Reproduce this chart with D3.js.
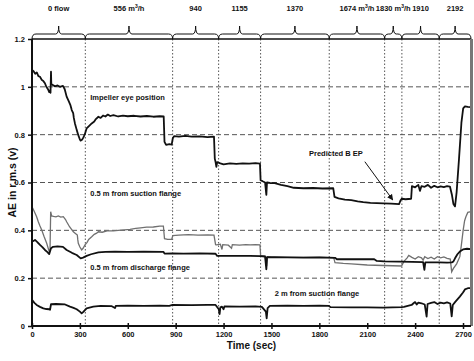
<!DOCTYPE html>
<html><head><meta charset="utf-8">
<script src="https://cdn.jsdelivr.net/npm/d3@7"></script>
<style>body{margin:0;background:#fff}svg{display:block}text{font-family:Arial,"Liberation Sans",sans-serif;font-weight:bold;fill:#111}</style>
</head><body><svg id="c" width="474" height="361"></svg>
<script>
// ---- data ----
const xTicks = [0,300,600,900,1200,1500,1800,2100,2400,2700];
const yTicks = [0,0.2,0.4,0.6,0.8,1,1.2];
const flowBounds = [0,334,881,1169,1432,1862,2209,2317,2551,2750];
const flowLabels = ["0 flow","556 m|3|/h","940","1155","1370","1674 m|3|/h","1830 m|3|/h","1910","2192"];

const impellerEye = [[0,1.07],[10,1.065],[20,1.055],[30,1.06],[40,1.045],[50,1.042],[60,1.03],[70,1.025],[81,1.015],[90,1.0],[100,0.99],[108,0.978],[112,0.985],[116,0.975],[119,1.063],[121,1.01],[130,1.008],[145,1.002],[160,1.006],[175,1.0],[194,1.004],[205,0.99],[217,0.959],[230,0.94],[240,0.925],[249,0.903],[258,0.89],[262,0.87],[269,0.847],[280,0.82],[290,0.798],[300,0.78],[305,0.775],[315,0.78],[322,0.789],[330,0.8],[342,0.826],[355,0.835],[374,0.847],[390,0.855],[400,0.865],[416,0.875],[430,0.87],[445,0.88],[460,0.876],[475,0.884],[490,0.878],[510,0.882],[540,0.876],[570,0.88],[600,0.877],[640,0.879],[680,0.876],[720,0.878],[760,0.875],[800,0.877],[825,0.876],[830,0.77],[840,0.757],[860,0.76],[875,0.758],[882,0.785],[890,0.794],[920,0.792],[960,0.795],[1000,0.792],[1050,0.793],[1100,0.79],[1140,0.792],[1145,0.7],[1150,0.685],[1155,0.665],[1160,0.685],[1180,0.68],[1200,0.676],[1240,0.68],[1280,0.678],[1320,0.68],[1360,0.679],[1400,0.681],[1428,0.679],[1432,0.61],[1445,0.605],[1460,0.6],[1468,0.548],[1472,0.6],[1490,0.598],[1520,0.597],[1560,0.59],[1600,0.585],[1640,0.578],[1700,0.576],[1760,0.577],[1820,0.575],[1887,0.576],[1895,0.54],[1920,0.534],[1960,0.528],[2000,0.526],[2040,0.521],[2075,0.518],[2120,0.515],[2160,0.514],[2200,0.513],[2250,0.512],[2300,0.51],[2308,0.525],[2316,0.532],[2340,0.53],[2375,0.532],[2380,0.585],[2400,0.58],[2420,0.59],[2430,0.565],[2440,0.585],[2460,0.582],[2480,0.59],[2500,0.578],[2520,0.586],[2540,0.58],[2560,0.584],[2580,0.581],[2600,0.585],[2618,0.583],[2630,0.55],[2640,0.51],[2650,0.5],[2660,0.56],[2675,0.7],[2690,0.85],[2701,0.91],[2712,0.918],[2730,0.916],[2750,0.915]];

const suction05 = [[0,0.499],[10,0.485],[20,0.47],[29,0.457],[40,0.435],[50,0.418],[61,0.401],[75,0.375],[92,0.346],[100,0.328],[108,0.311],[113,0.32],[117,0.478],[123,0.46],[135,0.458],[150,0.456],[165,0.46],[180,0.455],[196,0.457],[210,0.445],[217,0.436],[235,0.415],[250,0.402],[259,0.394],[270,0.388],[284,0.38],[287,0.36],[290,0.346],[300,0.33],[311,0.318],[320,0.325],[332,0.339],[345,0.35],[355,0.362],[374,0.373],[390,0.383],[405,0.388],[416,0.394],[440,0.392],[470,0.398],[510,0.398],[540,0.4],[580,0.402],[614,0.404],[650,0.408],[680,0.41],[718,0.413],[760,0.414],[800,0.418],[823,0.418],[830,0.365],[850,0.362],[875,0.362],[882,0.378],[920,0.38],[980,0.382],[1040,0.38],[1100,0.381],[1140,0.38],[1150,0.34],[1157,0.339],[1180,0.342],[1190,0.32],[1195,0.34],[1230,0.338],[1250,0.325],[1255,0.34],[1300,0.338],[1340,0.34],[1366,0.339],[1400,0.34],[1428,0.339],[1432,0.295],[1460,0.293],[1470,0.25],[1475,0.29],[1520,0.29],[1600,0.287],[1700,0.287],[1800,0.287],[1890,0.286],[1898,0.265],[1950,0.262],[2000,0.26],[2100,0.255],[2200,0.253],[2260,0.252],[2315,0.251],[2330,0.27],[2350,0.285],[2360,0.295],[2380,0.287],[2400,0.28],[2420,0.29],[2440,0.285],[2450,0.275],[2460,0.29],[2480,0.282],[2500,0.288],[2520,0.28],[2540,0.29],[2560,0.285],[2580,0.289],[2600,0.283],[2620,0.28],[2629,0.227],[2640,0.241],[2660,0.26],[2680,0.29],[2690,0.34],[2701,0.401],[2710,0.44],[2718,0.457],[2730,0.475],[2750,0.478]];

const discharge05 = [[0,0.352],[19,0.36],[35,0.35],[50,0.339],[65,0.33],[81,0.318],[95,0.31],[108,0.301],[119,0.325],[132,0.331],[160,0.333],[194,0.331],[217,0.318],[250,0.306],[280,0.297],[305,0.283],[320,0.286],[342,0.293],[370,0.3],[416,0.308],[460,0.31],[520,0.311],[600,0.31],[700,0.311],[823,0.31],[830,0.303],[880,0.304],[950,0.303],[1050,0.304],[1150,0.302],[1160,0.293],[1250,0.293],[1366,0.293],[1430,0.292],[1460,0.29],[1468,0.237],[1472,0.288],[1500,0.287],[1600,0.287],[1700,0.286],[1800,0.287],[1898,0.285],[1910,0.279],[2000,0.279],[2144,0.279],[2160,0.272],[2205,0.27],[2300,0.269],[2380,0.268],[2450,0.267],[2458,0.235],[2464,0.266],[2550,0.266],[2600,0.265],[2630,0.266],[2640,0.27],[2650,0.283],[2665,0.3],[2680,0.311],[2700,0.32],[2725,0.323],[2750,0.321]];

const suction2m = [[0,0.109],[15,0.097],[29,0.088],[50,0.08],[71,0.074],[90,0.071],[108,0.07],[113,0.068],[119,0.091],[150,0.092],[180,0.091],[207,0.09],[238,0.081],[260,0.076],[280,0.07],[300,0.06],[311,0.053],[320,0.058],[342,0.074],[384,0.081],[430,0.084],[500,0.083],[520,0.075],[525,0.084],[600,0.085],[700,0.084],[800,0.085],[860,0.084],[880,0.088],[1000,0.087],[1100,0.088],[1150,0.088],[1170,0.07],[1175,0.05],[1180,0.078],[1190,0.081],[1200,0.07],[1205,0.082],[1300,0.081],[1400,0.082],[1440,0.08],[1465,0.06],[1470,0.032],[1476,0.075],[1490,0.084],[1600,0.085],[1700,0.084],[1800,0.085],[1860,0.084],[1870,0.079],[2000,0.078],[2100,0.078],[2200,0.077],[2315,0.079],[2330,0.08],[2378,0.088],[2390,0.095],[2400,0.1],[2410,0.09],[2420,0.098],[2440,0.095],[2460,0.09],[2472,0.039],[2478,0.092],[2500,0.097],[2520,0.1],[2540,0.092],[2560,0.098],[2580,0.095],[2600,0.099],[2620,0.094],[2629,0.04],[2636,0.088],[2650,0.1],[2680,0.123],[2700,0.14],[2712,0.153],[2730,0.158],[2750,0.158]];

const annotations = [
  {text:"Impeller eye position", t:365, v:0.945},
  {text:"0.5 m from suction flange", t:365, v:0.545},
  {text:"0.5 m from discharge flange", t:365, v:0.235},
  {text:"2 m  from suction flange", t:1520, v:0.125},
  {text:"Predicted B EP", t:1735, v:0.71}
];
const bepArrow = {t0:2085, v0:0.687, t1:2260, v1:0.527};

// ---- chart ----
const svg = d3.select("#c");
const x = d3.scaleLinear().domain([0,2750]).range([32,471]);
const y = d3.scaleLinear().domain([0,1.2]).range([326,39]);

svg.append("g").selectAll("line").data(yTicks.filter(d=>d>0 && d<1.2)).join("line")
  .attr("x1",x(0)).attr("x2",x(2750)).attr("y1",d=>y(d)).attr("y2",d=>y(d))
  .attr("stroke","#555").attr("stroke-width",1).attr("stroke-dasharray","5,3");
svg.append("g").selectAll("line").data(flowBounds.slice(1,-1)).join("line")
  .attr("x1",d=>x(d)).attr("x2",d=>x(d)).attr("y1",y(1.2)).attr("y2",y(0))
  .attr("stroke","#555").attr("stroke-width",1).attr("stroke-dasharray","1.5,2");

const line = d3.line().x(d=>x(d[0])).y(d=>y(d[1]));
svg.append("path").datum(suction05).attr("d",line).attr("fill","none").attr("stroke","#707070").attr("stroke-width",1.3);
[discharge05, suction2m, impellerEye].forEach(s=>{
  svg.append("path").datum(s).attr("d",line).attr("fill","none").attr("stroke","#111").attr("stroke-width",1.8).attr("stroke-linejoin","round");
});

svg.append("line").attr("x1",x(0)).attr("x2",x(2750)).attr("y1",y(1.2)).attr("y2",y(1.2)).attr("stroke","#111").attr("stroke-width",1.3);
svg.append("line").attr("x1",x(2750)+0.5).attr("x2",x(2750)+0.5).attr("y1",y(1.2)).attr("y2",y(0)).attr("stroke","#777").attr("stroke-width",3);

const xAxis = svg.append("g").attr("transform",`translate(0,${y(0)})`)
  .call(d3.axisBottom(x).tickValues(xTicks).tickSize(3).tickPadding(3).tickFormat(d3.format("d")));
const yAxis = svg.append("g").attr("transform",`translate(${x(0)},0)`)
  .call(d3.axisLeft(y).tickValues(yTicks).tickSize(4).tickPadding(3).tickFormat(d=>String(d)));
[xAxis,yAxis].forEach(a=>{
  a.select(".domain").attr("stroke","#111").attr("stroke-width",2);
  a.selectAll(".tick line").attr("stroke","#111").attr("stroke-width",1.5);
  a.selectAll("text").attr("font-size","7.5px").attr("font-weight","bold").attr("fill","#111")
   .attr("font-family","Arial, 'Liberation Sans', sans-serif");
});
xAxis.selectAll(".tick line").attr("y1",-3).attr("y2",3);
yAxis.selectAll(".tick line").attr("x1",-4).attr("x2",1);
xAxis.select(".domain").attr("d",`M${x(0)},0H${x(2750)}`);
yAxis.select(".domain").attr("d",`M0,${y(1.2)}V${y(0)}`);

svg.append("text").attr("x",(x(0)+x(2750))/2).attr("y",349).attr("text-anchor","middle").attr("font-size","10px").text("Time (sec)");
svg.append("text").attr("transform",`translate(16,${(y(0.4)+y(0.8))/2}) rotate(-90)`).attr("text-anchor","middle").attr("font-size","10.5px").text("AE in r.m.s (v)");

const bg = svg.append("g");
for(let i=0;i<flowLabels.length;i++){
  const a = x(flowBounds[i]), b = x(flowBounds[i+1]), m=(a+b)/2;
  const yb = y(1.2), yh = yb-5, yt = yb-13;
  const r = Math.min(4,(b-a)/4);
  bg.append("path").attr("d",`M${a},${yb}Q${a},${yh} ${a+r},${yh}L${m-3},${yh}Q${m},${yh} ${m},${yt}Q${m},${yh} ${m+3},${yh}L${b-r},${yh}Q${b},${yh} ${b},${yb}`)
    .attr("fill","none").attr("stroke","#111").attr("stroke-width",1);
  const parts = flowLabels[i].split("|");
  const t = bg.append("text").attr("x",m).attr("y",11).attr("text-anchor","middle").attr("font-size","7.5px");
  t.append("tspan").text(parts[0]);
  if(parts.length>1){
    t.append("tspan").attr("dy",-3).attr("font-size","5px").text(parts[1]);
    t.append("tspan").attr("dy",3).text(parts[2]);
  }
}

svg.append("g").selectAll("text").data(annotations).join("text")
  .attr("x",d=>x(d.t)).attr("y",d=>y(d.v)).attr("font-size","7.5px").text(d=>d.text);
svg.append("defs").append("marker").attr("id","ah").attr("viewBox","0 0 10 10").attr("refX",9).attr("refY",5)
  .attr("markerWidth",6).attr("markerHeight",6).attr("orient","auto")
  .append("path").attr("d","M0,0L10,5L0,10z").attr("fill","#111");
svg.append("line").attr("x1",x(bepArrow.t0)).attr("y1",y(bepArrow.v0)).attr("x2",x(bepArrow.t1)).attr("y2",y(bepArrow.v1))
  .attr("stroke","#111").attr("stroke-width",1).attr("marker-end","url(#ah)");
</script></body></html>
